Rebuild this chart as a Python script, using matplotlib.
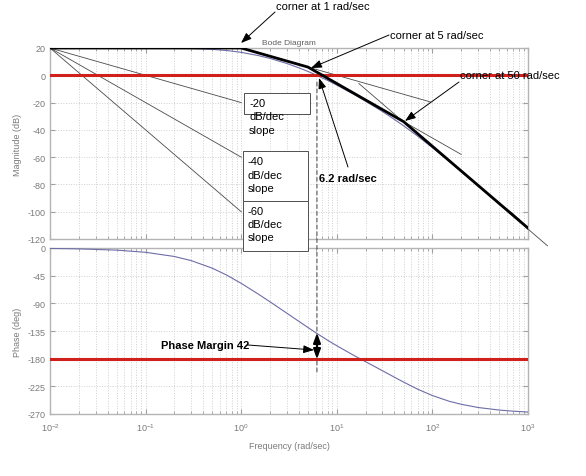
import matplotlib
matplotlib.use("Agg")
import matplotlib.pyplot as plt
from matplotlib.patches import Rectangle, ConnectionPatch, FancyArrowPatch, ArrowStyle
from matplotlib.ticker import LogLocator, FixedLocator, NullFormatter

# ---------------- data ----------------
freq = [0.01, 0.02, 0.05, 0.1, 0.2, 0.3, 0.5, 0.7, 1, 1.5, 2, 3, 4, 5, 6.2, 8, 10,
        15, 20, 30, 40, 50, 70, 100, 150, 200, 300, 500, 700, 1000]
mag_db = [20.0, 20.0, 20.0, 19.96, 19.82, 19.61, 18.99, 18.18, 16.82, 14.50, 12.36,
          8.65, 5.52, 2.80, -0.07, -3.75, -7.20, -13.92, -18.98, -26.56, -32.32,
          -37.03, -44.56, -53.02, -63.07, -70.37, -80.79, -94.02, -101.77, -112.05]
phase_deg = [-0.7, -1.4, -3.5, -7.0, -13.8, -20.5, -32.9, -43.8, -57.5, -74.7, -87.5,
             -106.0, -119.2, -129.4, -139.0, -150.0, -159.0, -174.5, -184.9, -199.6,
             -210.1, -218.1, -229.6, -240.0, -249.3, -254.2, -259.4, -263.6, -265.4,
             -266.8]

# straight-line (asymptotic) magnitude
asym_freq = [0.01, 1, 5, 50, 1000]
asym_db = [20, 20, 6, -34, -112]

# thin slope guide lines: (f_start, f_end), (dB_start, dB_end)
slope_lines = [
    ([0.01, 1], [20, -20]),      # -20 dB/dec
    ([0.01, 1], [20, -60]),      # -40 dB/dec
    ([0.01, 1], [20, -100]),     # -60 dB/dec
    ([1, 95], [20, -19.5]),      # -20 from corner 1
    ([5, 200], [6, -58]),        # -40 from corner 5
]
slope_line_ext = ([17, 1600], [-6, -125])  # -60 from corner 50 (extends past axes)

crossover_freq = 6.2
mag_ticks = [20, 0, -20, -40, -60, -80, -100, -120]
phase_ticks = [0, -45, -90, -135, -180, -225, -270]

# ---------------- layout helpers ----------------
W, H = 586, 477
def fx(x):
    return x / W
def fy(y):
    return 1 - y / H
def P(x, y):
    return (fx(x), fy(y))

plt.rcParams['font.family'] = ['Liberation Sans', 'DejaVu Sans']
plt.rcParams['mathtext.default'] = 'regular'
plt.rcParams['axes.unicode_minus'] = False

fig = plt.figure(figsize=(5.86, 4.77), dpi=100)
ax1 = fig.add_axes([fx(50), fy(240), fx(528) - fx(50), fy(49) - fy(240)])
ax2 = fig.add_axes([fx(50), fy(415), fx(528) - fx(50), fy(249) - fy(415)])

gray_txt = '#7a7a7a'
spine_c = '#b4b4b4'
grid_c = '#cfcfcf'
curve_c = '#6d6da8'
red_c = '#d0201c'
thin_c = '#4a4a4a'

for ax in (ax1, ax2):
    ax.set_xscale('log')
    ax.set_xlim(0.01, 1000)
    ax.xaxis.set_major_locator(LogLocator(base=10))
    ax.xaxis.set_minor_locator(LogLocator(base=10, subs=range(2, 10)))
    ax.xaxis.set_minor_formatter(NullFormatter())
    ax.grid(True, which='major', ls=':', color=grid_c, lw=0.7)
    ax.grid(True, which='minor', axis='x', ls=':', color=grid_c, lw=0.7)
    for s in ax.spines.values():
        s.set_color(spine_c)
        s.set_linewidth(1.0)
    ax.tick_params(which='both', direction='in', top=True, right=True,
                   color='#a0a0a0', labelcolor=gray_txt, labelsize=6.5)
    ax.tick_params(which='major', length=3.5)
    ax.tick_params(which='minor', length=2)
    ax.tick_params(axis='y', pad=3)
    ax.tick_params(axis='x', pad=5)

# ---- magnitude ----
ax1.set_ylim(-120, 20)
ax1.yaxis.set_major_locator(FixedLocator(mag_ticks))
ax1.tick_params(labelbottom=False)
ax1.plot(freq, mag_db, color=curve_c, lw=0.8, zorder=3)
for fs, ds in slope_lines:
    ax1.plot(fs, ds, color=thin_c, lw=0.6, zorder=3)
ax1.plot(slope_line_ext[0], slope_line_ext[1], color=thin_c, lw=0.6,
         zorder=3, clip_on=False)
ax1.axhline(0, color=red_c, lw=2.2, zorder=4)
ax1.plot(asym_freq, asym_db, color='black', lw=2.0, zorder=5)
ax1.set_title('Bode Diagram', fontsize=6, color='#606060', pad=3)
ax1.set_ylabel('Magnitude (dB)', fontsize=6.5, color=gray_txt)
ax1.yaxis.set_label_coords((22 - 50) / 478, 0.5)

# ---- phase ----
ax2.set_ylim(-270, 0)
ax2.yaxis.set_major_locator(FixedLocator(phase_ticks))
ax2.plot(freq, phase_deg, color=curve_c, lw=0.8, zorder=3)
ax2.axhline(-180, color=red_c, lw=2.2, zorder=4)
ax2.set_ylabel('Phase (deg)', fontsize=6.5, color=gray_txt)
ax2.yaxis.set_label_coords((22 - 50) / 478, 0.5)
ax2.set_xlabel('Frequency (rad/sec)', fontsize=6.5, color=gray_txt)
ax2.xaxis.set_label_coords(0.5, (415 - 442) / 166)

# ---- crossover dashed line across both axes ----
con = ConnectionPatch(xyA=(crossover_freq, -5), coordsA=ax1.transData,
                      xyB=(crossover_freq, -205), coordsB=ax2.transData,
                      ls=(0, (4, 3)), lw=0.7, color='#404040', zorder=6)
fig.add_artist(con)

# ---- annotations ----
def arrow(start, tip, style='-|>', lw=0.7, ms=8):
    fig.add_artist(FancyArrowPatch(
        P(*start), P(*tip), transform=fig.transFigure,
        arrowstyle=ArrowStyle(style, head_length=0.8, head_width=0.3),
        mutation_scale=ms, lw=lw, color='black', shrinkA=0, shrinkB=0, zorder=10))

fs_ann = 8
fig.text(*P(276, 7), 'corner at 1 rad/sec', fontsize=fs_ann, va='center', ha='left')
arrow((275, 13), (241, 44))
fig.text(*P(390, 36), 'corner at 5 rad/sec', fontsize=fs_ann, va='center', ha='left')
arrow((389, 36), (311, 69))
fig.text(*P(460, 76), 'corner at 50 rad/sec', fontsize=fs_ann, va='center', ha='left',
         zorder=10)
arrow((459, 83), (405, 122))
fig.text(*P(319, 179), '6.2 rad/sec', fontsize=fs_ann, fontweight='bold',
         va='center', ha='left')
arrow((348, 168), (319, 79))
fig.text(*P(161, 346), 'Phase Margin 42', fontsize=fs_ann, fontweight='bold',
         va='center', ha='left')
arrow((248, 346), (314, 351))
arrow((317, 360), (317, 334), style='<|-|>', lw=1.6, ms=7)

# slope boxes
boxes = [((244, 94), (310, 115), ['-20', 'dB/dec', 'slope'], [104, 117, 131]),
         ((243, 152), (308, 202), ['-40', 'dB/dec', 'slope'], [162, 176, 189]),
         ((243, 202), (308, 252), ['-60', 'dB/dec', 'slope'], [212, 225, 238])]
for (x0, y0), (x1, y1), lines, ys in boxes:
    r = Rectangle(P(x0, y1), fx(x1) - fx(x0), fy(y0) - fy(y1),
                  transform=fig.transFigure, facecolor='white',
                  edgecolor='#505050', lw=0.7, zorder=8)
    fig.add_artist(r)
    for t, yy in zip(lines, ys):
        fig.text(*P(x0 + 5, yy), t, fontsize=fs_ann, va='center', ha='left',
                 zorder=9)

fig.savefig('out.png', dpi=100)
